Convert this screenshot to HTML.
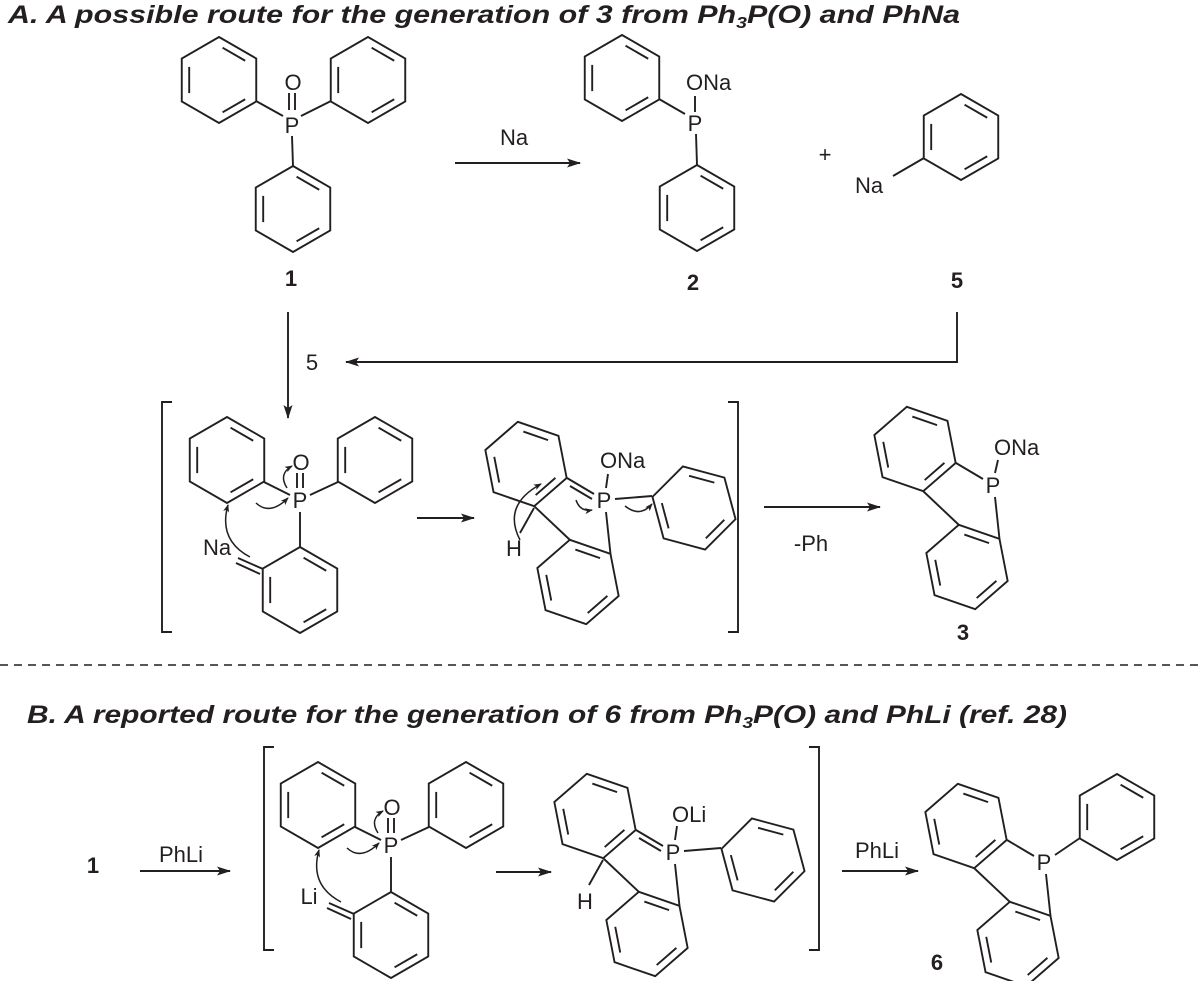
<!DOCTYPE html>
<html><head><meta charset="utf-8"><style>
html,body{margin:0;padding:0;background:#fff;}
svg{display:block;}
text{font-family:"Liberation Sans",sans-serif;fill:#231f20;}
.l{font-size:22px;}
.b{font-size:22px;font-weight:bold;}
.t{font-size:25px;font-weight:bold;font-style:italic;}
</style></head><body>
<svg width="1200" height="981" viewBox="0 0 1200 981" xmlns="http://www.w3.org/2000/svg">
<defs>
<g id="hx" fill="none" stroke="#231f20" stroke-width="1.9">
<polygon points="0,-43 37.24,-21.5 37.24,21.5 0,43 -37.24,21.5 -37.24,-21.5"/>
<line x1="3.58" y1="-32.34" x2="26.22" y2="-19.26"/>
<line x1="26.22" y1="19.26" x2="3.58" y2="32.34"/>
<line x1="-29.8" y1="13.1" x2="-29.8" y2="-13.1"/>
</g>
<marker id="ah" markerWidth="14" markerHeight="9" refX="13" refY="4.5" orient="auto" markerUnits="userSpaceOnUse">
<path d="M0,0 L14,4.5 L0,9 L3,4.5 Z" fill="#231f20"/></marker>
<marker id="sa" markerWidth="8" markerHeight="6" refX="7" refY="3" orient="auto" markerUnits="userSpaceOnUse">
<path d="M0,0 L8,3 L0,6 L2,3 Z" fill="#231f20"/></marker>
<g id="fl">
<use href="#hx" transform="translate(-78,-36) rotate(-11)"/>
<use href="#hx" transform="translate(-26,82) rotate(-11)"/>
<g stroke="#231f20" stroke-width="1.9" fill="none">
<line x1="-37" y1="-22" x2="-10" y2="-6"/>
<line x1="6.5" y1="54" x2="2" y2="12"/>
<line x1="-70" y1="6" x2="-34" y2="40"/>
</g>
<text class="l" x="0" y="8" text-anchor="middle">P</text>
</g>
<g id="i1">
<use href="#hx" transform="translate(-73,-40)"/>
<use href="#hx" transform="translate(75,-40)"/>
<use href="#hx" transform="translate(0,90)"/>
<g stroke="#231f20" stroke-width="1.9" fill="none">
<line x1="-36" y1="-18" x2="-10" y2="-5"/>
<line x1="38" y1="-18" x2="10" y2="-5"/>
<line x1="0" y1="12" x2="0" y2="47"/>
<line x1="-3" y1="-27" x2="-3" y2="-12"/>
<line x1="3" y1="-27" x2="3" y2="-12"/>
<line x1="-62" y1="58" x2="-37" y2="69"/>
<line x1="-64" y1="63" x2="-40" y2="74"/>
<path d="M-50,57 Q-82,40 -72,5" marker-end="url(#sa)" stroke-width="1.5"/>
<path d="M-44,3 Q-30,16 -12,-2" marker-end="url(#sa)" stroke-width="1.5"/>
<path d="M-13,-12 Q-22,-26 -8,-34" marker-end="url(#sa)" stroke-width="1.5"/>
</g>
<text class="l" x="0" y="8" text-anchor="middle">P</text>
<text class="l" x="1" y="-30" text-anchor="middle">O</text>
</g>
<g id="i2">
<use href="#fl"/>
<use href="#hx" transform="translate(90,8) rotate(-15)"/>
<g stroke="#231f20" stroke-width="1.9" fill="none">
<line x1="-34" y1="-14" x2="-12" y2="-1"/>
<line x1="11" y1="-1" x2="48" y2="-4"/>
<line x1="2" y1="-12" x2="4" y2="-26"/>
<line x1="-84" y1="33" x2="-70" y2="8"/>
</g>
</g>
</defs>

<text class="t" x="8" y="23" textLength="952" lengthAdjust="spacingAndGlyphs">A. A possible route for the generation of 3 from Ph<tspan font-size="16" dy="5">3</tspan><tspan dy="-5">P(O) and PhNa</tspan></text>

<use href="#hx" transform="translate(219,80)"/>
<use href="#hx" transform="translate(368,80)"/>
<use href="#hx" transform="translate(293,209)"/>
<g stroke="#231f20" stroke-width="1.9" fill="none">
<line x1="256" y1="101" x2="283" y2="116"/>
<line x1="331" y1="101" x2="301" y2="116"/>
<line x1="292" y1="136" x2="293" y2="166"/>
<line x1="289" y1="93" x2="289" y2="110"/>
<line x1="295" y1="93" x2="295" y2="110"/>
</g>
<text class="l" x="292" y="133" text-anchor="middle">P</text>
<text class="l" x="293" y="90" text-anchor="middle">O</text>
<text class="b" x="291" y="286" text-anchor="middle">1</text>

<line x1="455" y1="163" x2="580" y2="163" stroke="#231f20" stroke-width="1.9" marker-end="url(#ah)"/>
<text class="l" x="514" y="145" text-anchor="middle">Na</text>

<use href="#hx" transform="translate(622,78)"/>
<use href="#hx" transform="translate(697,208)"/>
<g stroke="#231f20" stroke-width="1.9" fill="none">
<line x1="659" y1="99" x2="685" y2="114"/>
<line x1="696" y1="134" x2="697" y2="165"/>
<line x1="695" y1="96" x2="695" y2="112"/>
</g>
<text class="l" x="695" y="131" text-anchor="middle">P</text>
<text class="l" x="686" y="90">ONa</text>
<text class="b" x="693" y="290" text-anchor="middle">2</text>

<text class="l" x="825" y="162" text-anchor="middle">+</text>
<use href="#hx" transform="translate(961,137)"/>
<line x1="893" y1="176" x2="924" y2="158" stroke="#231f20" stroke-width="1.9"/>
<text class="l" x="855" y="193">Na</text>
<text class="b" x="957" y="288" text-anchor="middle">5</text>

<g stroke="#231f20" stroke-width="1.9" fill="none">
<polyline points="957,312 957,362 346,362" marker-end="url(#ah)"/>
<line x1="288" y1="312" x2="288" y2="418" marker-end="url(#ah)"/>
<polyline points="172,402 162,402 162,632 172,632"/>
<polyline points="728,402 738,402 738,632 728,632"/>
<line x1="417" y1="518" x2="474" y2="518" marker-end="url(#ah)"/>
<line x1="764" y1="507" x2="880" y2="507" marker-end="url(#ah)"/>
</g>
<text class="l" x="312" y="370" text-anchor="middle">5</text>

<use href="#i1" transform="translate(300,500)"/>
<text class="l" x="217" y="555" text-anchor="middle">Na</text>

<use href="#i2" transform="translate(604,500)"/>
<text class="l" x="600" y="468">ONa</text>
<text class="l" x="514" y="556" text-anchor="middle">H</text>
<g stroke="#231f20" stroke-width="1.5" fill="none">
<path d="M520,540 Q502,505 541,484" marker-end="url(#sa)"/>
<path d="M576,500 Q580,512 592,510" marker-end="url(#sa)"/>
<path d="M625,506 Q640,518 652,504" marker-end="url(#sa)"/>
</g>

<text class="l" x="811" y="551" text-anchor="middle">-Ph</text>

<use href="#fl" transform="translate(993,485)"/>
<line x1="995" y1="473" x2="998" y2="460" stroke="#231f20" stroke-width="1.9"/>
<text class="l" x="994" y="455">ONa</text>
<text class="b" x="963" y="640" text-anchor="middle">3</text>

<line x1="0" y1="665" x2="1200" y2="665" stroke="#231f20" stroke-width="1.5" stroke-dasharray="8,6"/>

<text class="t" x="27" y="723" textLength="1040" lengthAdjust="spacingAndGlyphs">B. A reported route for the generation of 6 from Ph<tspan font-size="16" dy="5">3</tspan><tspan dy="-5">P(O) and PhLi (ref. 28)</tspan></text>

<text class="b" x="93" y="873" text-anchor="middle">1</text>
<g stroke="#231f20" stroke-width="1.9" fill="none">
<line x1="140" y1="871" x2="230" y2="871" marker-end="url(#ah)"/>
<polyline points="274,747 264,747 264,950 274,950"/>
<polyline points="809,747 819,747 819,950 809,950"/>
<line x1="496" y1="872" x2="551" y2="872" marker-end="url(#ah)"/>
<line x1="842" y1="871" x2="918" y2="871" marker-end="url(#ah)"/>
</g>
<text class="l" x="181" y="862" text-anchor="middle">PhLi</text>
<text class="l" x="877" y="858" text-anchor="middle">PhLi</text>

<use href="#i1" transform="translate(391,845)"/>
<text class="l" x="309" y="904" text-anchor="middle">Li</text>

<use href="#i2" transform="translate(673,852)"/>
<text class="l" x="672" y="822">OLi</text>
<text class="l" x="585" y="909" text-anchor="middle">H</text>

<use href="#fl" transform="translate(1044,862)"/>
<use href="#hx" transform="translate(1117,817)"/>
<line x1="1055" y1="855" x2="1080" y2="838" stroke="#231f20" stroke-width="1.9"/>
<text class="b" x="937" y="970" text-anchor="middle">6</text>
</svg>
</body></html>
